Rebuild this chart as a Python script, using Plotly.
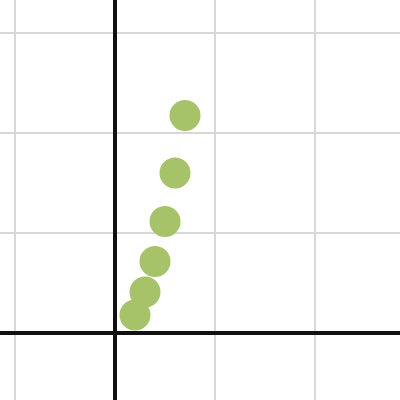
import plotly.graph_objects as go

x_vals = [0.2, 0.3, 0.4, 0.5, 0.6, 0.7]
y_vals = [0.18, 0.41, 0.715, 1.115, 1.6, 2.175]

fig = go.Figure()

fig.add_trace(go.Scatter(x=x_vals, y=y_vals,
                    mode='markers',
                    marker=dict(color='#a7c36a', size=31, line=dict(width=0)),
                    showlegend=False
                    )
)

fig.update_layout(
    width=400, height=400,
    margin=dict(l=0, r=0, t=0, b=0),
    plot_bgcolor='white',
    paper_bgcolor='white'
)

fig.update_xaxes(range=[-1.15, 2.85], dtick=1, tick0=0,
                 showgrid=True, gridcolor='#d8d8d8', gridwidth=2,
                 zeroline=True, zerolinecolor='#111111', zerolinewidth=4,
                 showticklabels=False, ticks='')
fig.update_yaxes(range=[-0.67, 3.33], dtick=1, tick0=0,
                 showgrid=True, gridcolor='#d8d8d8', gridwidth=2,
                 zeroline=True, zerolinecolor='#111111', zerolinewidth=4,
                 showticklabels=False, ticks='')

# drop the page margin so the plot sits at the top-left corner
fig.write_html("out.html", config={'displayModeBar': False},
               post_script="document.body.style.margin='0px';")
